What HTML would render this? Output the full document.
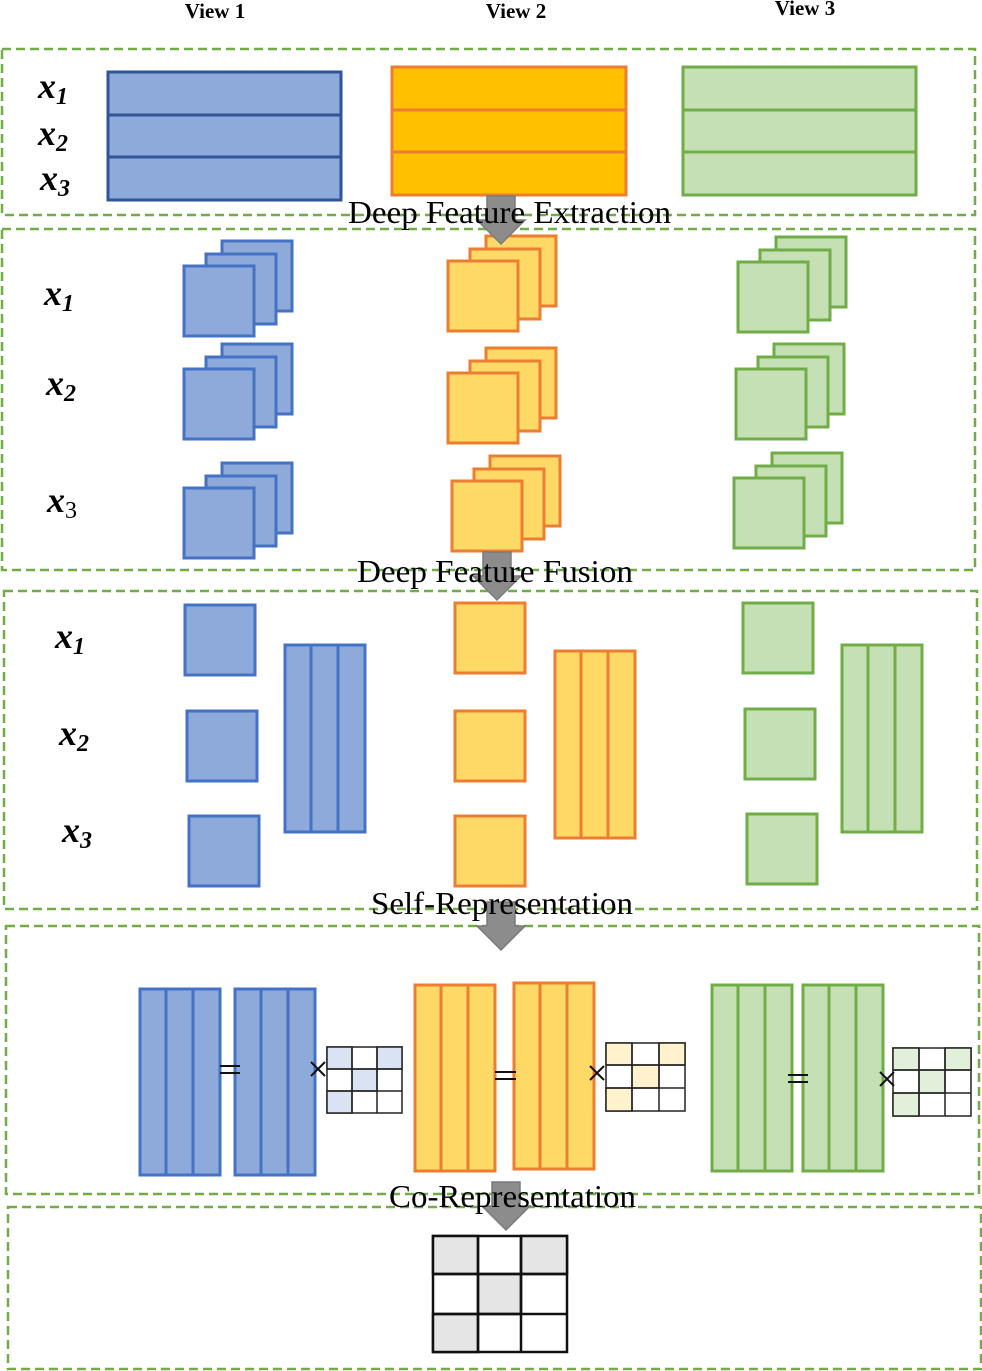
<!DOCTYPE html>
<html><head><meta charset="utf-8"><style>
body{margin:0;background:#fff}
svg{display:block}
.lbl{font-family:"Liberation Serif",serif;font-size:32px;fill:#000}
.vx{font-family:"Liberation Serif",serif;font-weight:bold;font-size:21px}
.xv{font-family:"Liberation Serif",serif;font-style:italic;font-weight:bold;font-size:36px}
.sub{font-size:24px}
</style></head><body>
<svg width="982" height="1371" viewBox="0 0 982 1371" xmlns="http://www.w3.org/2000/svg">
<defs>
<g id="arrow"><path d="M-14,0 H14 V24 H24 L0,48 L-24,24 H-14 Z" fill="#8c8c8c" stroke="#7a7a7a" stroke-width="1.5"/></g>
</defs>
<g fill="none" stroke="#70ad47" stroke-width="2.5" stroke-dasharray="9,5">
<rect x="2" y="49" width="973" height="166"/>
<rect x="2" y="229" width="973" height="341"/>
<rect x="4" y="591" width="973" height="318"/>
<rect x="6" y="926" width="973" height="268"/>
<rect x="8" y="1207" width="973" height="162"/>
</g>
<g class="vx" text-anchor="middle"><text x="215" y="18">View 1</text><text x="516" y="18">View 2</text><text x="805" y="15">View 3</text></g>

<!-- Row 1 -->
<g stroke-width="3">
<rect x="108" y="72" width="233" height="128" fill="#8eaadb" stroke="#2f5597"/>
<line x1="108" y1="115" x2="341" y2="115" stroke="#2f5597"/><line x1="108" y1="157" x2="341" y2="157" stroke="#2f5597"/>
<rect x="392" y="67" width="234" height="128" fill="#ffc000" stroke="#ed7d31"/>
<line x1="392" y1="110" x2="626" y2="110" stroke="#ed7d31"/><line x1="392" y1="152" x2="626" y2="152" stroke="#ed7d31"/>
<rect x="683" y="67" width="233" height="128" fill="#c5e0b4" stroke="#70ad47"/>
<line x1="683" y1="110" x2="916" y2="110" stroke="#70ad47"/><line x1="683" y1="152" x2="916" y2="152" stroke="#70ad47"/>
</g>
<g class="xv">
<text x="38" y="98">x<tspan class="sub" dy="6">1</tspan></text>
<text x="38" y="145">x<tspan class="sub" dy="6">2</tspan></text>
<text x="40" y="190">x<tspan class="sub" dy="6">3</tspan></text>
<text x="44" y="305">x<tspan class="sub" dy="6">1</tspan></text>
<text x="46" y="395">x<tspan class="sub" dy="6">2</tspan></text>
<text x="47" y="512">x<tspan class="sub" dy="6" font-weight="normal" font-style="normal">3</tspan></text>
<text x="55" y="648">x<tspan class="sub" dy="6">1</tspan></text>
<text x="59" y="745">x<tspan class="sub" dy="6">2</tspan></text>
<text x="62" y="842">x<tspan class="sub" dy="6">3</tspan></text>
</g>

<!-- Stacks -->
<g stroke-width="3">
<g fill="#8eaadb" stroke="#4472c4">
<rect x="222" y="241" width="70" height="70"/><rect x="206" y="254" width="70" height="70"/><rect x="184" y="266" width="70" height="70"/>
<rect x="222" y="344" width="70" height="70"/><rect x="206" y="357" width="70" height="70"/><rect x="184" y="369" width="70" height="70"/>
<rect x="222" y="463" width="70" height="70"/><rect x="206" y="476" width="70" height="70"/><rect x="184" y="488" width="70" height="70"/>
</g>
<g fill="#ffd966" stroke="#ed7d31">
<rect x="486" y="236" width="70" height="70"/><rect x="470" y="249" width="70" height="70"/><rect x="448" y="261" width="70" height="70"/>
<rect x="486" y="348" width="70" height="70"/><rect x="470" y="361" width="70" height="70"/><rect x="448" y="373" width="70" height="70"/>
<rect x="490" y="456" width="70" height="70"/><rect x="474" y="469" width="70" height="70"/><rect x="452" y="481" width="70" height="70"/>
</g>
<g fill="#c5e0b4" stroke="#70ad47">
<rect x="776" y="237" width="70" height="70"/><rect x="760" y="250" width="70" height="70"/><rect x="738" y="262" width="70" height="70"/>
<rect x="774" y="344" width="70" height="70"/><rect x="758" y="357" width="70" height="70"/><rect x="736" y="369" width="70" height="70"/>
<rect x="772" y="453" width="70" height="70"/><rect x="756" y="466" width="70" height="70"/><rect x="734" y="478" width="70" height="70"/>
</g>

<!-- Panel 3 -->
<g fill="#8eaadb" stroke="#4472c4">
<rect x="185" y="605" width="70" height="70"/><rect x="187" y="711" width="70" height="70"/><rect x="189" y="816" width="70" height="70"/>
<rect x="285" y="645" width="80" height="187"/><line x1="311" y1="645" x2="311" y2="832"/><line x1="338" y1="645" x2="338" y2="832"/>
</g>
<g fill="#ffd966" stroke="#ed7d31">
<rect x="455" y="603" width="70" height="70"/><rect x="455" y="711" width="70" height="70"/><rect x="455" y="816" width="70" height="70"/>
<rect x="555" y="651" width="80" height="187"/><line x1="581" y1="651" x2="581" y2="838"/><line x1="608" y1="651" x2="608" y2="838"/>
</g>
<g fill="#c5e0b4" stroke="#70ad47">
<rect x="743" y="603" width="70" height="70"/><rect x="745" y="709" width="70" height="70"/><rect x="747" y="814" width="70" height="70"/>
<rect x="842" y="645" width="80" height="187"/><line x1="868" y1="645" x2="868" y2="832"/><line x1="895" y1="645" x2="895" y2="832"/>
</g>

<!-- Panel 4 -->
<g fill="#8eaadb" stroke="#4472c4">
<rect x="140" y="989" width="80" height="186"/><line x1="166" y1="989" x2="166" y2="1175"/><line x1="193" y1="989" x2="193" y2="1175"/>
<rect x="235" y="989" width="80" height="186"/><line x1="261" y1="989" x2="261" y2="1175"/><line x1="288" y1="989" x2="288" y2="1175"/>
</g>
<g fill="#ffd966" stroke="#ed7d31">
<rect x="415" y="985" width="80" height="186"/><line x1="441" y1="985" x2="441" y2="1171"/><line x1="468" y1="985" x2="468" y2="1171"/>
<rect x="514" y="983" width="80" height="186"/><line x1="540" y1="983" x2="540" y2="1169"/><line x1="567" y1="983" x2="567" y2="1169"/>
</g>
<g fill="#c5e0b4" stroke="#70ad47">
<rect x="712" y="985" width="80" height="186"/><line x1="738" y1="985" x2="738" y2="1171"/><line x1="765" y1="985" x2="765" y2="1171"/>
<rect x="803" y="985" width="80" height="186"/><line x1="829" y1="985" x2="829" y2="1171"/><line x1="856" y1="985" x2="856" y2="1171"/>
</g>
</g>

<!-- small matrices -->
<g stroke="#222" stroke-width="1.5">
<g>
<rect x="327" y="1047" width="75" height="66" fill="#fff"/>
<rect x="327" y="1047" width="25" height="22" fill="#dae3f3"/><rect x="377" y="1047" width="25" height="22" fill="#dae3f3"/>
<rect x="352" y="1069" width="25" height="22" fill="#dae3f3"/><rect x="327" y="1091" width="25" height="22" fill="#dae3f3"/>
<path d="M352,1047V1113M377,1047V1113M327,1069H402M327,1091H402" fill="none"/>
</g>
<g>
<rect x="606" y="1043" width="79" height="68" fill="#fff"/>
<rect x="606" y="1043" width="26" height="22" fill="#fff2cc"/><rect x="659" y="1043" width="26" height="22" fill="#fff2cc"/>
<rect x="632" y="1065" width="27" height="23" fill="#fff2cc"/><rect x="606" y="1088" width="26" height="23" fill="#fff2cc"/>
<path d="M632,1043V1111M659,1043V1111M606,1065H685M606,1088H685" fill="none"/>
</g>
<g>
<rect x="893" y="1048" width="78" height="68" fill="#fff"/>
<rect x="893" y="1048" width="26" height="22" fill="#e2efda"/><rect x="945" y="1048" width="26" height="22" fill="#e2efda"/>
<rect x="919" y="1070" width="26" height="23" fill="#e2efda"/><rect x="893" y="1093" width="26" height="23" fill="#e2efda"/>
<path d="M919,1048V1116M945,1048V1116M893,1070H971M893,1093H971" fill="none"/>
</g>
</g>
<g stroke="#111" stroke-width="2" fill="none">
<path d="M220,1066H240M220,1073H240"/>
<path d="M495,1072H516M495,1079H516"/>
<path d="M788,1075H808M788,1082H808"/>
<path d="M311,1062L325,1076M325,1062L311,1076"/>
<path d="M590,1066L604,1080M604,1066L590,1080"/>
<path d="M880,1072L894,1086M894,1072L880,1086"/>
</g>

<!-- final matrix -->
<g stroke="#111" stroke-width="2.5">
<rect x="433" y="1236" width="134" height="116" fill="#fff"/>
<rect x="433" y="1236" width="45" height="38" fill="#e5e5e5"/><rect x="521" y="1236" width="46" height="38" fill="#e5e5e5"/>
<rect x="478" y="1274" width="43" height="40" fill="#e5e5e5"/><rect x="433" y="1314" width="45" height="38" fill="#e5e5e5"/>
<path d="M478,1236V1352M521,1236V1352M433,1274H567M433,1314H567" fill="none"/>
</g>

<!-- arrows -->
<use href="#arrow" x="501" y="196"/>
<use href="#arrow" x="497" y="552"/>
<use href="#arrow" x="501" y="902"/>
<use href="#arrow" x="506" y="1182"/>

<g class="lbl">
<text x="348" y="223" textLength="323" lengthAdjust="spacingAndGlyphs">Deep Feature Extraction</text>
<text x="357" y="582" textLength="276" lengthAdjust="spacingAndGlyphs">Deep Feature Fusion</text>
<text x="371" y="914" textLength="262" lengthAdjust="spacingAndGlyphs">Self-Representation</text>
<text x="389" y="1207" textLength="247" lengthAdjust="spacingAndGlyphs">Co-Representation</text>
</g>
</svg>
</body></html>
